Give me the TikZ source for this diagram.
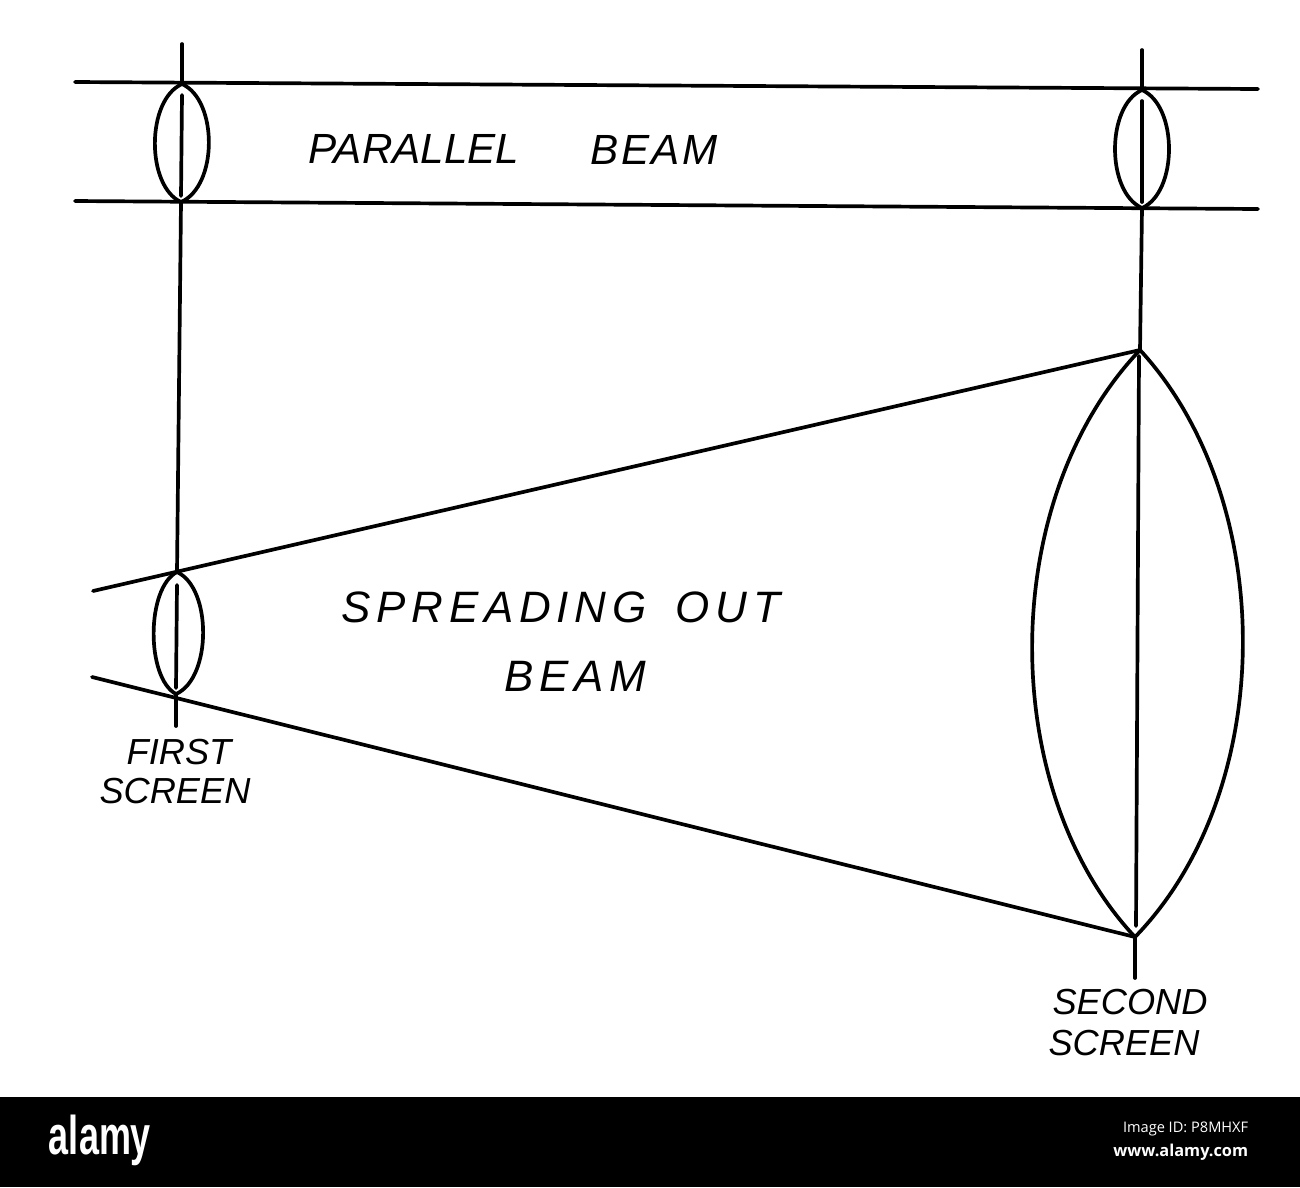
\documentclass[tikz,border=0pt]{standalone}
\usepackage{fontspec}
\setmainfont{Liberation Sans}
\newfontfamily\widefont[LetterSpace=13]{Liberation Sans}
\newfontfamily\stampfont{Open Sans}
\begin{document}
\begin{tikzpicture}[x=0.01cm,y=-0.01cm,line width=1.05pt,line cap=round,
    lettering/.style={inner sep=0pt,font=\itshape\fontsize{12}{12}\selectfont},
    spaced/.style={inner sep=0pt,font=\widefont\itshape\fontsize{12.5}{13}\selectfont},
    screenlabel/.style={inner sep=0pt,font=\itshape\fontsize{10.3}{11}\selectfont},
    stamp/.style={inner sep=0pt,anchor=east,white,font=\stampfont\fontsize{4.15}{5}\selectfont}]
            \useasboundingbox (0,0) rectangle (1300,1187);
            \coordinate (axisatop) at (182,44);
            \coordinate (lensatop) at (182,84);
            \coordinate (lensabot) at (181,202);
            \coordinate (lenscTop) at (177,572);
            \coordinate (lenscBot) at (176,694);
            \coordinate (axisabot) at (176,726);
            \coordinate (axisbtop) at (1142,50);
            \coordinate (lensbtop) at (1142,90);
            \coordinate (lensbbot) at (1142,208);
            \coordinate (lensdTop) at (1140,350);
            \coordinate (lensdBot) at (1135,937);
            \coordinate (axisbbot) at (1135,978);
            % parallel beam
            \coordinate (pa) at (75,82);
            \coordinate (pb) at (1258,89);
            \coordinate (qa) at (75,201);
            \coordinate (qb) at (1258,209);
            \draw (pa) -- (pb);
            \draw (qa) -- (qb);
            % spreading beam
            \coordinate (ra) at (93,591);
            \coordinate (sa) at (92,677);
            \draw (ra) -- (lensdTop);
            \draw (sa) -- (lensdBot);
            % axes
            \draw (axisatop) -- (lensatop);
            \draw (lensabot) -- (lenscTop);
            \draw (lenscBot) -- (axisabot);
            \draw (axisbtop) -- (lensbtop);
            \draw (lensbbot) -- (lensdTop);
            \draw (lensdBot) -- (axisbbot);
            % lenses
            \draw (lensatop) .. controls (146,100) and (146,186) .. (lensabot)
                .. controls (218,186) and (218,100) .. (lensatop);
            \draw (lensbtop) .. controls (1106,106) and (1106,192) .. (lensbbot)
                .. controls (1178,192) and (1178,106) .. (lensbtop);
            \draw (lenscTop) .. controls (146,588) and (146,678) .. (lenscBot)
                .. controls (212,678) and (212,588) .. (lenscTop);
            \draw (lensdTop) .. controls (997,500) and (997,790) .. (lensdBot)
                .. controls (1278,790) and (1278,500) .. (lensdTop);
            \coordinate (ia) at (182,95);
            \coordinate (ib) at (181,196);
            \coordinate (ja) at (1142,101);
            \coordinate (jb) at (1142,202);
            \coordinate (ka) at (177,585);
            \coordinate (kb) at (176,688);
            \coordinate (la) at (1139,356);
            \coordinate (lb) at (1136,926);
            \draw (ia) -- (ib);
            \draw (ja) -- (jb);
            \draw (ka) -- (kb);
            \draw (la) -- (lb);
            % labels
            \node[lettering] (parallel) at (414,149) {PARALLEL};
            \node[lettering] (beama) at (654,150) {B\kern.7pt E\kern.7pt A\kern.7pt M};
            \node[spaced] (spreading) at (494,607) {SPREADING};
            \node[spaced] (out) at (728,607) {OUT};
            \node[spaced] (beamb) at (575,676) {BEAM};
            \node[screenlabel] (first) at (179,752) {FIRST};
            \node[screenlabel] (screena) at (175,791) {SCREEN};
            \node[screenlabel] (second) at (1130,1002) {SECOND};
            \node[screenlabel] (screenb) at (1124,1043) {SCREEN};
            % bottom strip
            \fill[black] (0,1097) rectangle (1300,1187);
            \node[inner sep=0pt,white,xscale=0.66,font=\bfseries\fontsize{15.5}{16}\selectfont] (logo) at (100,1140) {alamy};
            \node[stamp] (imageid) at (1250,1129) {Image ID: P8MHXF};
            \node[stamp,font=\stampfont\bfseries\fontsize{4.65}{5}\selectfont] (site) at (1250,1152) {www.alamy.com};
        \end{tikzpicture}
\end{document}
